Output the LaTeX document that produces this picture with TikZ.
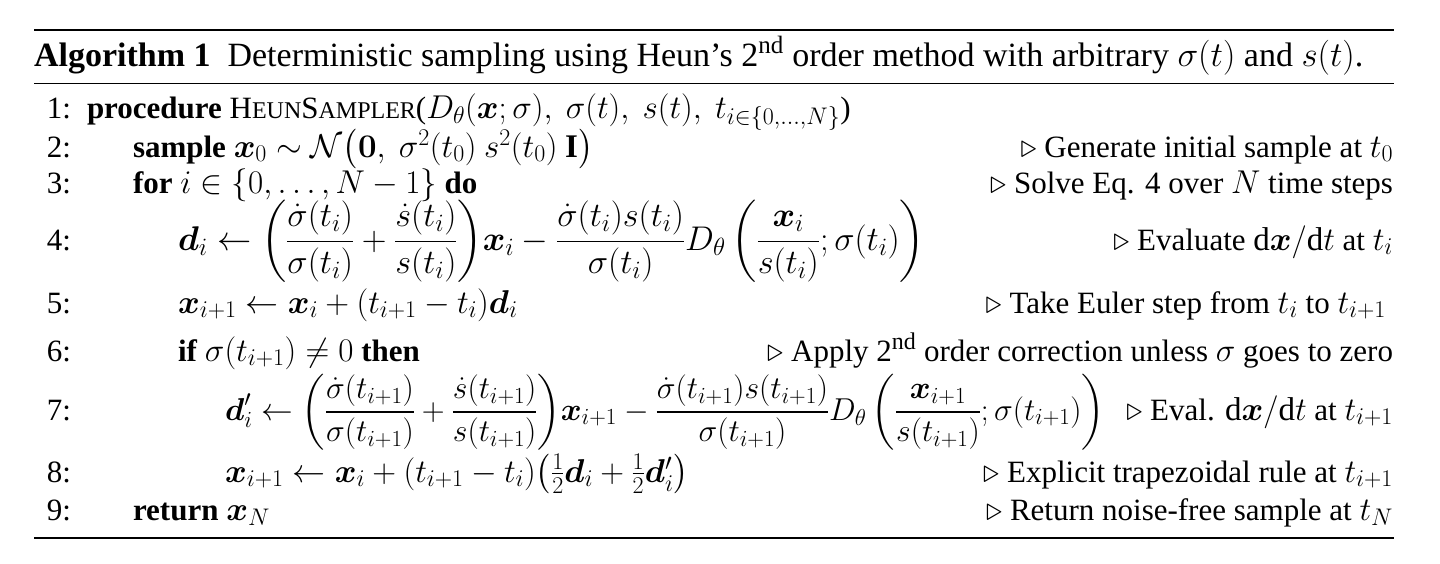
\documentclass[tikz,border=0pt]{standalone}
\usepackage{fix-cm}
\usepackage{amsmath,amssymb,bm,graphicx}
\usepackage{fontspec}
\setmainfont{Liberation Serif}
\DeclareMathSizes{31}{33}{24}{18}
\DeclareMathSizes{34}{35}{25}{19}
\newcommand{\fsc}[1]{{\fontsize{24}{28}\selectfont #1}}
\newcommand{\tri}{$\triangleright$\ }
\begin{document}
\begin{tikzpicture}[x=1pt,y=-1pt,
  every node/.style={inner sep=0,outer sep=0,font=\fontsize{31}{36}\selectfont},
  txt/.style={anchor=base west},
  num/.style={anchor=base east},
  cmt/.style={anchor=base east},
  rule/.style={line width=1.6pt}]
\useasboundingbox (0,0) rectangle (1440,563);
\draw[rule] (34,30) -- (1394,30);
\draw[line width=1pt] (34,83) -- (1394,83);
\draw[line width=1.2pt] (34,538) -- (1394,538);
\node[txt,font=\fontsize{34}{38}\selectfont] (cap) at (34,66) {\textbf{Algorithm 1}\ \ Deterministic sampling using Heun's 2\textsuperscript{nd} order method with arbitrary $\sigma(t)$ and $s(t)$.};
\foreach \n/\y in {1/118,2/157,3/193,4/250,5/313,6/361,7/420,8/482,9/520}
  \node[num] (n\n) at (71,\y) {\n:};
\node[txt] (l1) at (87,118) {\textbf{procedure} H\fsc{EUN}S\fsc{AMPLER}($D_\theta(\bm x;\sigma),\ \sigma(t),\ s(t),\ t_{i\in\{0,\dots,N\}}$)};
\node[txt] (l2) at (133,157) {\textbf{sample} $\bm x_0\sim\mathcal N\big(\bm 0,\ \sigma^2(t_0)\ s^2(t_0)\ \mathbf I\big)$};
\node[cmt] (c2) at (1393,157) {\tri Generate initial sample at $t_0$};
\node[txt] (l3) at (133,193) {\textbf{for} $i\in\{0,\dots,N-1\}$ \textbf{do}};
\node[cmt] (c3) at (1393,193) {\tri Solve Eq. 4 over $N$ time steps};
\node[txt] (l4) at (178,250) {\resizebox{747pt}{!}{$\displaystyle \bm d_i\leftarrow\left(\frac{\dot\sigma(t_i)}{\sigma(t_i)}+\frac{\dot s(t_i)}{s(t_i)}\right)\!\bm x_i-\frac{\dot\sigma(t_i)s(t_i)}{\sigma(t_i)}D_\theta\left(\frac{\bm x_i}{s(t_i)};\sigma(t_i)\right)$}};
\node[cmt] (c4) at (1393,250) {\tri Evaluate $\mathrm d\bm x/\mathrm dt$ at $t_i$};
\node[txt] (l5) at (178,313) {$\bm x_{i+1}\leftarrow\bm x_i+(t_{i+1}-t_i)\bm d_i$};
\node[cmt] (c5) at (1386,313) {\tri Take Euler step from $t_i$ to $t_{i+1}$};
\node[txt] (l6) at (178,361) {\textbf{if} $\sigma(t_{i+1})\neq0$ \textbf{then}};
\node[cmt] (c6) at (1393,361) {\tri Apply 2\textsuperscript{nd} order correction unless $\sigma$ goes to zero};
\node[txt] (l7) at (225,420) {\resizebox{880pt}{!}{$\displaystyle \bm d_i'\leftarrow\left(\frac{\dot\sigma(t_{i+1})}{\sigma(t_{i+1})}+\frac{\dot s(t_{i+1})}{s(t_{i+1})}\right)\!\bm x_{i+1}-\frac{\dot\sigma(t_{i+1})s(t_{i+1})}{\sigma(t_{i+1})}D_\theta\left(\frac{\bm x_{i+1}}{s(t_{i+1})};\sigma(t_{i+1})\right)$}};
\node[cmt] (c7) at (1393,420) {\tri Eval. $\mathrm d\bm x/\mathrm dt$ at $t_{i+1}$};
\node[txt] (l8) at (225,482) {$\bm x_{i+1}\leftarrow\bm x_i+(t_{i+1}-t_i)\big(\tfrac12\bm d_i+\tfrac12\bm d_i'\big)$};
\node[cmt] (c8) at (1393,482) {\tri Explicit trapezoidal rule at $t_{i+1}$};
\node[txt] (l9) at (133,520) {\textbf{return} $\bm x_N$};
\node[cmt] (c9) at (1393,520) {\tri Return noise-free sample at $t_N$};
\end{tikzpicture}
\end{document}
